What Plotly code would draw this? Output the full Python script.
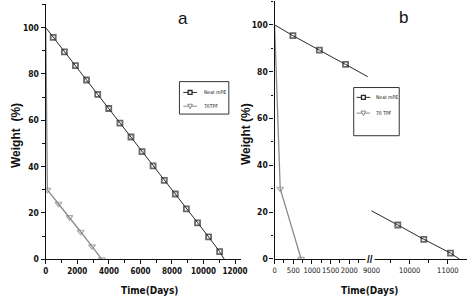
import plotly.graph_objects as go

# ---- data ----
a_time_neat = [0, 470, 1180, 1880, 2580, 3290, 3990, 4700, 5400, 6100, 6800, 7510, 8210, 8910, 9620, 10320, 11020, 11320]
a_wt_neat = [100, 95.8, 89.5, 83.6, 77.4, 71.2, 65.1, 58.8, 52.8, 46.5, 40.3, 34.1, 28.2, 21.8, 15.7, 9.7, 3.3, 0]
a_time_tpf = [0, 100, 800, 1500, 2210, 2930, 3550]
a_wt_tpf = [100, 30, 24, 18.2, 11.9, 5.6, 0]

b_time_neat = [0, 490, 1200, 1900, 9690, 10370, 11070, 11300]
b_wt_neat = [100, 95.4, 89.2, 83.1, 14.5, 8.4, 2.5, 0]
b_time_tpf = [0, 150, 710]
b_wt_tpf = [100, 30, 0]

legend_a = ["Neat mPE", "70TPF"]
legend_b = ["Neat mPE", "70 TPF"]

W, H = 474, 303
NEAT_C = "#2a2a2a"
TPF_C = "#8a8a8a"
FONT = "DejaVu Sans Condensed, Liberation Sans Narrow, Liberation Sans, Arial"


def sizes(n, hide_first=True, hide_last=False, s=5):
    out = [s] * n
    if hide_first:
        out[0] = 0
    if hide_last:
        out[-1] = 0
    return out


fig = go.Figure()

# panel a
fig.add_trace(go.Scatter(x=a_time_neat, y=a_wt_neat, mode="lines+markers", name=legend_a[0],
                         line=dict(color=NEAT_C, width=1),
                         marker=dict(symbol="square-open", size=sizes(len(a_time_neat), True, True, 5),
                                     color=NEAT_C, line=dict(width=1.8)),
                         xaxis="x", yaxis="y"))
fig.add_trace(go.Scatter(x=a_time_tpf, y=a_wt_tpf, mode="lines+markers", name=legend_a[1],
                         line=dict(color=TPF_C, width=1.3),
                         marker=dict(symbol="triangle-down-open", size=sizes(len(a_time_tpf), True, False, 6),
                                     color=TPF_C, line=dict(width=1.2)),
                         xaxis="x", yaxis="y"))

# panel b (broken axis: two x segments sharing one y axis)
for xa in ("x2", "x3"):
    fig.add_trace(go.Scatter(x=b_time_neat, y=b_wt_neat, mode="lines+markers", name=legend_b[0],
                             line=dict(color=NEAT_C, width=1),
                             marker=dict(symbol="square-open", size=sizes(len(b_time_neat), True, True, 5),
                                         color=NEAT_C, line=dict(width=1.8)),
                             xaxis=xa, yaxis="y2"))
fig.add_trace(go.Scatter(x=b_time_tpf, y=b_wt_tpf, mode="lines+markers", name=legend_b[1],
                         line=dict(color=TPF_C, width=1.3),
                         marker=dict(symbol="triangle-down-open", size=sizes(len(b_time_tpf), True, False, 6),
                                     color=TPF_C, line=dict(width=1.2)),
                         xaxis="x2", yaxis="y2"))

px = lambda v: v / W
py = lambda v: 1 - v / H

tickfont = dict(family=FONT, size=8.5, color="#111", weight="bold")
xtickfont = dict(family=FONT, size=8, color="#111", weight="bold")
btickfont = dict(family=FONT, size=7.5, color="#111")
common_axis = dict(showline=True, linecolor="#111", linewidth=1.3, showgrid=False, zeroline=False,
                   ticks="outside", ticklen=4, tickwidth=1, tickcolor="#111",
                   mirror=False, tickformat="d", ticklabeloverflow="allow")

y_dom = [py(263.7), py(4.5)]
y_dom_b = [py(263.3), py(1.5)]

fig.update_layout(
    width=W, height=H, margin=dict(l=0, r=0, t=0, b=0),
    paper_bgcolor="white", plot_bgcolor="white", showlegend=False,
    xaxis=dict(domain=[px(38), px(240)], range=[0, 12400], dtick=2000, tick0=0, anchor="y",
               tickangle=0, tickfont=xtickfont,
               minor=dict(dtick=1000, ticks="outside", ticklen=2.5, tickcolor="#111"),
               **common_axis),
    yaxis=dict(domain=y_dom, range=[0, 110], dtick=20, tick0=0, anchor="x", tickfont=tickfont,
               minor=dict(dtick=10, ticks="outside", ticklen=2.5, tickcolor="#111"),
               **common_axis),
    xaxis2=dict(domain=[px(274.3), px(370.5)], range=[0, 2495], dtick=500, tick0=0, anchor="y2",
                tickangle=0, tickfont=btickfont,
                minor=dict(dtick=250, ticks="outside", ticklen=2.5, tickcolor="#111"),
                **common_axis),
    xaxis3=dict(domain=[px(374.3), px(472.5)], range=[9000, 11490], dtick=1000, tick0=9000, anchor="y2",
                tickangle=0, tickfont=btickfont,
                minor=dict(dtick=500, ticks="outside", ticklen=2.5, tickcolor="#111"),
                **common_axis),
    yaxis2=dict(domain=y_dom_b, range=[0, 110], dtick=20, tick0=0, anchor="x2", tickfont=tickfont,
                minor=dict(dtick=10, ticks="outside", ticklen=2.5, tickcolor="#111"),
                **common_axis),
)

shapes = []
ann = []


def add_legend(box, rows, names, line_x, text_x):
    x0, y0, x1, y1 = box
    shapes.append(dict(type="rect", xref="paper", yref="paper", x0=px(x0), x1=px(x1), y0=py(y0), y1=py(y1),
                       line=dict(color="#333", width=1), fillcolor="white", layer="above"))
    styles = [(NEAT_C, "sq"), (TPF_C, "tri")]
    for (yy, name, (col, mk)) in zip(rows, names, styles):
        shapes.append(dict(type="line", xref="paper", yref="paper", x0=px(line_x[0]), x1=px(line_x[1]),
                           y0=py(yy), y1=py(yy), line=dict(color=col, width=1), layer="above"))
        cx = (line_x[0] + line_x[1]) / 2
        if mk == "sq":
            shapes.append(dict(type="rect", xref="paper", yref="paper", x0=px(cx - 2), x1=px(cx + 2),
                               y0=py(yy - 2), y1=py(yy + 2), line=dict(color=col, width=1.3),
                               fillcolor="white", layer="above"))
        else:
            shapes.append(dict(type="path", xref="paper", yref="paper",
                               path=f"M {px(cx-2.5)} {py(yy-2)} L {px(cx+2.5)} {py(yy-2)} L {px(cx)} {py(yy+2.5)} Z",
                               line=dict(color=col, width=1), fillcolor="white", layer="above"))
        ann.append(dict(text=name, x=px(text_x), y=py(yy), xanchor="left", yanchor="middle",
                        font=dict(family=FONT, size=5, color="#111")))


add_legend((176, 83, 227, 116), [94, 108], legend_a, (180, 194), 199)
add_legend((356, 89, 403, 138), [99, 115], legend_b, (359, 373), 377)

title_font = dict(family="Liberation Sans, Arial", size=12, color="#111")
xt_font = dict(family=FONT, size=10, color="#111", weight="bold")
ann += [
    dict(text="a", x=px(180), y=py(19), font=dict(family="Liberation Sans, Arial", size=17, color="#111")),
    dict(text="b", x=px(407), y=py(18), font=dict(family="Liberation Sans, Arial", size=17, color="#111")),
    dict(text="<b>Weight  (%)</b>", x=px(6.5), y=py(138), textangle=-90, font=title_font),
    dict(text="<b>Weight (%)</b>", x=px(244), y=py(136), textangle=-90, font=title_font),
    dict(text="Time(Days)", x=px(145), y=py(295.5), font=xt_font),
    dict(text="Time(Days)", x=px(372), y=py(295.5), font=xt_font),
    dict(text="<b>//</b>", x=px(372.3), y=py(263.5), font=dict(family="Liberation Sans, Arial", size=10, color="#111"),
         bgcolor="white"),
]
for a in ann:
    a.setdefault("xanchor", "center")
    a.setdefault("yanchor", "middle")
    a.update(xref="paper", yref="paper", showarrow=False)
fig.update_layout(annotations=ann, shapes=shapes)

fig.write_html("out.html")
